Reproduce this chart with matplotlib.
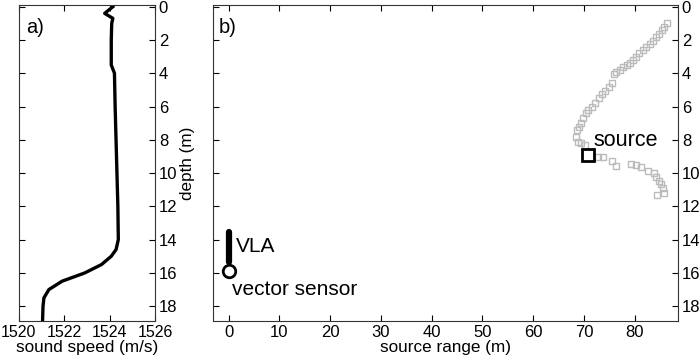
import matplotlib
matplotlib.use("Agg")
import matplotlib.pyplot as plt

plt.rcParams['font.family'] = ['Liberation Sans', 'DejaVu Sans']

# sound speed profile (panel a)
ssp_depth = [0.0, 0.4, 0.7, 1.0, 2.0, 3.5, 4.0, 6.0, 8.0, 10.0, 12.0, 14.0, 14.6, 15.0,
             15.5, 16.0, 16.5, 17.0, 17.5, 18.0, 18.9]
ssp_speed = [1524.13, 1523.77, 1524.13, 1524.08, 1524.06, 1524.06, 1524.2, 1524.23, 1524.27,
             1524.31, 1524.35, 1524.37, 1524.27, 1524.06, 1523.63, 1522.9, 1521.9, 1521.32,
             1521.1, 1521.06, 1521.04]

# source track (gray squares, panel b)
track_range = [86.4, 85.8, 85.4, 84.8, 84.3, 83.7, 83.0, 82.3, 81.6, 80.9, 80.3, 79.6, 79.1,
               78.4, 77.8, 77.1, 76.4, 76.0, 75.6, 75.0, 74.2, 73.6, 72.9, 72.2, 71.6, 70.9,
               70.4, 69.9, 69.4, 69.0, 68.6, 68.4, 68.8, 69.4, 70.3, 72.7, 73.8, 75.5, 76.3,
               79.3, 80.3, 81.2, 82.7, 83.9, 84.3, 84.7, 85.2, 85.5, 85.8, 84.5]
track_depth = [0.95, 1.19, 1.43, 1.63, 1.83, 2.09, 2.23, 2.43, 2.63, 2.79, 3.03, 3.23, 3.39,
               3.49, 3.63, 3.80, 3.90, 4.04, 4.56, 4.80, 5.04, 5.24, 5.50, 5.77, 6.01, 6.20,
               6.40, 6.70, 6.97, 7.21, 7.41, 7.81, 8.11, 8.21, 8.31, 9.02, 9.02, 9.26, 9.58,
               9.46, 9.52, 9.66, 9.86, 9.98, 10.22, 10.46, 10.66, 10.92, 11.19, 11.33]

source_pos = (70.9, 8.9)
vla_depth = [13.55, 15.35]
sensor_pos = (0.0, 15.9)

fig = plt.figure(figsize=(7, 3.6), dpi=100)
ax1 = fig.add_axes([0.027, 0.108, 0.195, 0.878])
ax2 = fig.add_axes([0.304, 0.108, 0.665, 0.878])

# panel a
ax1.plot(ssp_speed, ssp_depth, color='black', lw=2.4)
ax1.set_xlim(1520, 1526)
ax1.set_xticks([1520, 1522, 1524, 1526])
ax1.set_xlabel('sound speed (m/s)', fontsize=12.3, labelpad=0)
ax1.set_ylabel('depth (m)', fontsize=12.3, labelpad=2)
ax1.text(0.05, 0.96, 'a)', transform=ax1.transAxes, fontsize=14.5, va='top')

# panel b
ax2.plot(track_range, track_depth, ls='none', marker='s', ms=4.5, mfc='none',
         mec='#bbbbbb', mew=1.0)
ax2.plot(source_pos[0], source_pos[1], marker='s', ms=9, mfc='none', mec='black', mew=2)
ax2.plot([0, 0], vla_depth, color='black', lw=4.5, solid_capstyle='round')
ax2.plot(sensor_pos[0], sensor_pos[1], marker='o', ms=9, mfc='none', mec='black', mew=2)
ax2.text(1.4, 14.4, 'VLA', fontsize=15, va='center')
ax2.text(0.6, 17.0, 'vector sensor', fontsize=15, va='center')
ax2.text(71.8, 8.05, 'source', fontsize=15.5, va='center')
ax2.set_xlim(-3.1, 88.6)
ax2.set_xticks(range(0, 81, 10))
ax2.set_xlabel('source range (m)', fontsize=12.3, labelpad=0)
ax2.text(0.012, 0.96, 'b)', transform=ax2.transAxes, fontsize=14.5, va='top')

for ax in (ax1, ax2):
    ax.set_ylim(18.9, -0.1)
    ax.set_yticks(range(0, 19, 2))
    ax.yaxis.set_label_position('right')
    ax.tick_params(axis='both', direction='in', length=4, width=0.8, labelsize=12,
                   pad=2.5, top=True, right=True, left=True, labelleft=False, labelright=True)
    for s in ax.spines.values():
        s.set_color('#333333')
        s.set_linewidth(0.8)
ax1.tick_params(axis='x', labelsize=11.5)

fig.savefig('out.png', dpi=100)
